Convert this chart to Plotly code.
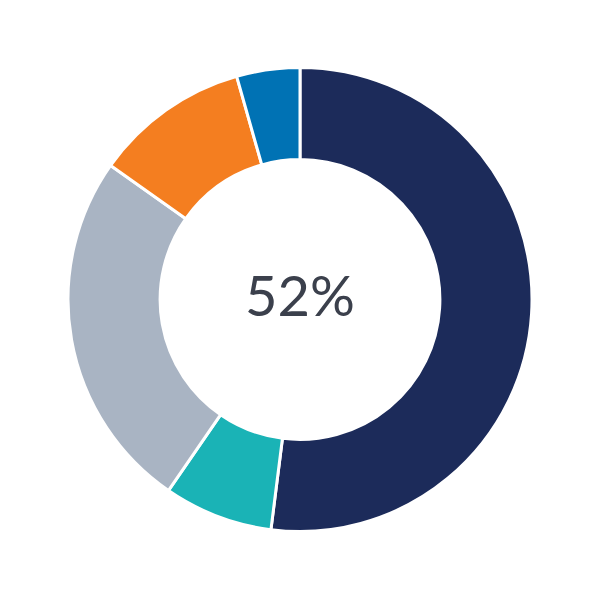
import plotly.graph_objects as go

labels = ["A", "B", "C", "D", "E"]
values = [52.0, 7.6, 25.2, 10.8, 4.4]
colors = ["#1c2b5a", "#1ab3b6", "#a9b4c3", "#f47e20", "#0072b4"]
center_text = "52%"

# page body has an 8px margin; compensate so the donut lands where the reference has it
off = 8
cx, cy, r = 300 - off, 299.5 - off, 232
fig = go.Figure(go.Pie(
    labels=labels,
    values=values,
    hole=0.603,
    sort=False,
    direction="clockwise",
    rotation=0,
    marker=dict(colors=colors, line=dict(color="white", width=3)),
    textinfo="none",
    hoverinfo="label+percent",
    domain=dict(x=[(cx - r) / 600, (cx + r) / 600],
                y=[1 - (cy + r) / 600, 1 - (cy - r) / 600]),
    showlegend=False,
))

fig.add_annotation(
    text=center_text, x=cx / 600, y=1 - cy / 600, xref="paper", yref="paper",
    showarrow=False, yshift=5,
    font=dict(family="Lato", size=56, color="#3b404c"),
)

fig.update_layout(
    width=600, height=600,
    margin=dict(l=0, r=0, t=0, b=0),
    paper_bgcolor="white", plot_bgcolor="white",
)

fig.write_html("out.html")
